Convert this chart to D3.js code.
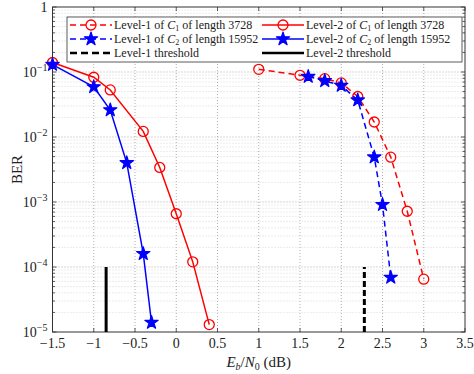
<!DOCTYPE html>
<html><head><meta charset="utf-8">
<script src="https://cdn.jsdelivr.net/npm/d3@7"></script>
<style>body{margin:0;background:#fff}svg{display:block}text{font-family:"Liberation Serif","DejaVu Serif",serif}</style>
</head><body><svg id="c" width="474" height="374"></svg>
<script>
// Data
const l1c1_x = [-1.5, -1.0, -0.8, -0.4, -0.2, 0.0, 0.2, 0.4];
const l1c1_y = [0.14, 0.083, 0.053, 0.0122, 0.0034, 0.00066, 0.00012, 0.000013];
const l1c2_x = [-1.5, -1.0, -0.8, -0.6, -0.4, -0.3];
const l1c2_y = [0.13, 0.059, 0.026, 0.004, 0.00016, 0.000014];
const l2c1_x = [1.0, 1.5, 1.8, 2.0, 2.2, 2.4, 2.6, 2.8, 3.0];
const l2c1_y = [0.110, 0.089, 0.079, 0.068, 0.042, 0.017, 0.0049, 0.00072, 0.000065];
const l2c2_x = [1.6, 1.8, 2.0, 2.2, 2.4, 2.5, 2.6];
const l2c2_y = [0.085, 0.073, 0.062, 0.037, 0.0049, 0.00091, 0.000069];
const thr1_x = -0.85, thr2_x = 2.28;
const thr_y = [1e-5, 1e-4];
const xTicks = [-1.5, -1, -0.5, 0, 0.5, 1, 1.5, 2, 2.5, 3, 3.5];
const yTicks = [1e-5, 1e-4, 1e-3, 1e-2, 1e-1, 1];
const yTickExp = ["−5", "−4", "−3", "−2", "−1", ""];
const legendLabels = [
  ["Level-1 of ", "C", "1", " of length 3728"],
  ["Level-1 of ", "C", "2", " of length 15952"],
  ["Level-1 threshold"],
  ["Level-2 of ", "C", "1", " of length 3728"],
  ["Level-2 of ", "C", "2", " of length 15952"],
  ["Level-2 threshold"]
];

const svg = d3.select("#c");
const L = 52.5, R = 465, T = 7, B = 332;
const x = d3.scaleLinear().domain([-1.5, 3.5]).range([L, R]);
const y = d3.scaleLog().domain([1e-5, 1]).range([B, T]);

// minor grid
const minors = [];
for (let e = -5; e < 0; e++) for (let k = 2; k <= 9; k++) minors.push(k * Math.pow(10, e));
const g = svg.append("g");
g.selectAll(".mg").data(minors).join("line")
  .attr("x1", L).attr("x2", R).attr("y1", d => y(d)).attr("y2", d => y(d))
  .attr("stroke", "#d0d0d0").attr("stroke-width", 0.8).attr("stroke-dasharray", "1,2");
g.selectAll(".gx").data(xTicks.slice(1, -1)).join("line")
  .attr("x1", d => x(d)).attr("x2", d => x(d)).attr("y1", T).attr("y2", B)
  .attr("stroke", "#9a9a9a").attr("stroke-width", 0.8).attr("stroke-dasharray", "1,2");
g.selectAll(".gy").data(yTicks.slice(1, -1)).join("line")
  .attr("x1", L).attr("x2", R).attr("y1", d => y(d)).attr("y2", d => y(d))
  .attr("stroke", "#9a9a9a").attr("stroke-width", 0.8).attr("stroke-dasharray", "1,2");

// box + ticks
svg.append("rect").attr("x", L).attr("y", T).attr("width", R - L).attr("height", B - T)
  .attr("fill", "none").attr("stroke", "#333").attr("stroke-width", 1);
const tk = svg.append("g").attr("stroke", "#333").attr("stroke-width", 0.8);
xTicks.forEach(d => {
  tk.append("line").attr("x1", x(d)).attr("x2", x(d)).attr("y1", B).attr("y2", B - 4);
  tk.append("line").attr("x1", x(d)).attr("x2", x(d)).attr("y1", T).attr("y2", T + 4);
});
yTicks.forEach(d => {
  tk.append("line").attr("x1", L).attr("x2", L + 4).attr("y1", y(d)).attr("y2", y(d));
  tk.append("line").attr("x1", R).attr("x2", R - 4).attr("y1", y(d)).attr("y2", y(d));
});
minors.forEach(d => {
  tk.append("line").attr("x1", L).attr("x2", L + 2.5).attr("y1", y(d)).attr("y2", y(d));
  tk.append("line").attr("x1", R).attr("x2", R - 2.5).attr("y1", y(d)).attr("y2", y(d));
});

// x tick labels
svg.append("g").selectAll("text").data(xTicks).join("text")
  .attr("x", d => x(d)).attr("y", B + 16).attr("text-anchor", "middle")
  .attr("font-size", 14).attr("fill", "#222")
  .text(d => (d < 0 ? "−" : "") + Math.abs(d));
// y tick labels
yTicks.forEach((d, i) => {
  const t = svg.append("text").attr("x", L - 5).attr("y", y(d) + 5).attr("text-anchor", "end")
    .attr("font-size", 14).attr("fill", "#222");
  if (d === 1) { t.text("1"); }
  else {
    t.append("tspan").text("10");
    t.append("tspan").attr("font-size", 10).attr("dy", -6).text(yTickExp[i]);
  }
});
// axis labels
svg.append("text").attr("transform", `translate(22,${(T + B) / 2}) rotate(-90)`)
  .attr("text-anchor", "middle").attr("font-size", 15).attr("fill", "#222").text("BER");
const xl = svg.append("text").attr("x", x(1)).attr("y", 367).attr("text-anchor", "middle")
  .attr("font-size", 15).attr("fill", "#222");
xl.append("tspan").attr("font-style", "italic").text("E");
xl.append("tspan").attr("font-style", "italic").attr("font-size", 10).attr("dy", 3).text("b");
xl.append("tspan").attr("dy", -3).text("/");
xl.append("tspan").attr("font-style", "italic").text("N");
xl.append("tspan").attr("font-size", 10).attr("dy", 3).text("0");
xl.append("tspan").attr("dy", -3).text(" (dB)");

// thresholds
svg.append("line").attr("x1", x(thr1_x)).attr("x2", x(thr1_x)).attr("y1", y(thr_y[0])).attr("y2", y(thr_y[1]))
  .attr("stroke", "#000").attr("stroke-width", 3);
svg.append("line").attr("x1", x(thr2_x)).attr("x2", x(thr2_x)).attr("y1", y(thr_y[0])).attr("y2", y(thr_y[1]))
  .attr("stroke", "#000").attr("stroke-width", 3).attr("stroke-dasharray", "6,3");

const line = d3.line().x(d => x(d[0])).y(d => y(d[1]));
const star = d3.symbol().type(d3.symbolStar).size(55);
function series(xs, ys, color, dashed, marker) {
  const pts = xs.map((v, i) => [v, ys[i]]);
  svg.append("path").attr("d", line(pts)).attr("fill", "none").attr("stroke", color)
    .attr("stroke-width", 1.5).attr("stroke-dasharray", dashed ? "6,4" : null);
  const gg = svg.append("g");
  if (marker === "o") {
    gg.selectAll("circle").data(pts).join("circle").attr("cx", d => x(d[0])).attr("cy", d => y(d[1]))
      .attr("r", 5).attr("fill", "none").attr("stroke", color).attr("stroke-width", 1.3);
  } else {
    gg.selectAll("path").data(pts).join("path").attr("d", star)
      .attr("transform", d => `translate(${x(d[0])},${y(d[1])})`).attr("fill", color)
      .attr("stroke", color).attr("stroke-width", 1.2).attr("stroke-linejoin", "round");
  }
}
series(l1c1_x, l1c1_y, "#ff0000", false, "o");
series(l1c2_x, l1c2_y, "#0000ff", false, "*");
series(l2c1_x, l2c1_y, "#ff0000", true, "o");
series(l2c2_x, l2c2_y, "#0000ff", true, "*");

// legend
const lg = svg.append("g");
lg.append("rect").attr("x", 67).attr("y", 17).attr("width", 395).attr("height", 45)
  .attr("fill", "#fff").attr("stroke", "#333").attr("stroke-width", 0.8);
const legItems = [
  {c: "#ff0000", m: "o", dash: true}, {c: "#0000ff", m: "*", dash: true}, {c: "#000", m: null, dash: true},
  {c: "#ff0000", m: "o", dash: false}, {c: "#0000ff", m: "*", dash: false}, {c: "#000", m: null, dash: false}
];
legItems.forEach((it, i) => {
  const col = Math.floor(i / 3), row = i % 3;
  const x0 = col === 0 ? 70 : 262, x1 = x0 + 42, yy = 25 + row * 14;
  lg.append("line").attr("x1", x0).attr("x2", x1).attr("y1", yy).attr("y2", yy)
    .attr("stroke", it.c).attr("stroke-width", it.m ? 1.5 : 2.5)
    .attr("stroke-dasharray", it.dash ? (it.m ? "6,4" : "7,4") : null);
  const cx = (x0 + x1) / 2;
  if (it.m === "o") lg.append("circle").attr("cx", cx).attr("cy", yy).attr("r", 5)
    .attr("fill", "none").attr("stroke", it.c).attr("stroke-width", 1.3);
  if (it.m === "*") lg.append("path").attr("d", star).attr("transform", `translate(${cx},${yy})`)
    .attr("fill", it.c).attr("stroke", it.c).attr("stroke-width", 1.2).attr("stroke-linejoin", "round");
  const t = lg.append("text").attr("x", x1 + 2).attr("y", yy + 4).attr("font-size", 12).attr("fill", "#222");
  const lab = legendLabels[i];
  if (lab.length === 1) t.text(lab[0]);
  else {
    t.append("tspan").text(lab[0]);
    t.append("tspan").attr("font-style", "italic").text(lab[1]);
    t.append("tspan").attr("font-size", 8).attr("dy", 2).text(lab[2]);
    t.append("tspan").attr("dy", -2).text(lab[3]);
  }
});
</script></body></html>
